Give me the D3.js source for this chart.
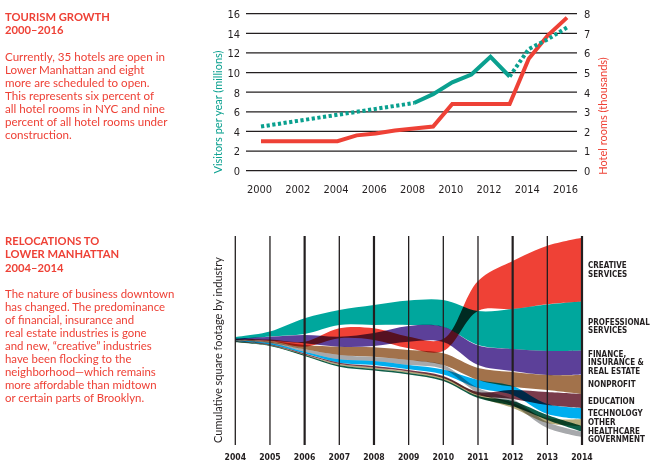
<!DOCTYPE html>
<html><head><meta charset="utf-8">
<script src="https://cdn.jsdelivr.net/npm/d3@7"></script>
<style>
body{margin:0;background:#fff;}
svg{display:block;}
text{font-family:Lato,"Liberation Sans",sans-serif;}
.nar{font-family:"Liberation Sans Narrow","DejaVu Sans Condensed",sans-serif;}
</style></head><body>
<svg id="c" width="656" height="470"></svg>
<script>
// ---------- DATA: top chart ----------
const visitTicks = [0, 2, 4, 6, 8, 10, 12, 14, 16];
const roomTicks = [0, 1, 2, 3, 4, 5, 6, 7, 8];
const yearTicksTop = [2000, 2002, 2004, 2006, 2008, 2010, 2012, 2014, 2016];
const visitEstYears = [2000, 2004, 2006, 2008];
const visitEst = [4.5, 5.7, 6.3, 6.9];
const visitActYears = [2008, 2009, 2010, 2011, 2012, 2013];
const visitAct = [6.9, 7.8, 9.0, 9.8, 11.6, 9.6];
const visitProjYears = [2013, 2014, 2015, 2016];
const visitProj = [9.6, 12.4, 13.4, 14.6];
const hotelYears = [2000, 2001, 2002, 2003, 2004, 2005, 2006, 2007, 2008, 2009, 2010, 2011, 2012, 2013, 2014, 2015, 2016];
const hotelRooms = [1.5, 1.5, 1.5, 1.5, 1.5, 1.8, 1.9, 2.05, 2.15, 2.25, 3.4, 3.4, 3.4, 3.4, 5.7, 6.9, 7.8];

// ---------- DATA: bottom chart (upper/lower edge of each industry band, relative units) ----------
const streamYears = [2004, 2005, 2006, 2007, 2008, 2009, 2010, 2011, 2012, 2013, 2014];
const industryLabels = [["CREATIVE", "SERVICES"], ["PROFESSIONAL", "SERVICES"], ["FINANCE,", "INSURANCE &", "REAL ESTATE"], ["NONPROFIT"], ["EDUCATION"], ["TECHNOLOGY"], ["OTHER"], ["HEALTHCARE"], ["GOVERNMENT"]];
const creative     = [[0,-0.5],[-0.5,-2],[-2.7,-7.7],[10.7,0.7],[10.7,-1],[2.3,-9.3],[0,-12],[58,28],[78,30],[93.3,34.7],[101.3,37.5]];
const professional = [[2,-1],[7.5,2.5],[20.7,5],[29,14],[34,14],[38.5,14],[39,12],[28,-6],[30,-10],[34.5,-12],[37.5,-11.5]];
const finance      = [[0.5,-1],[2.3,-1.7],[4,-4.3],[2.3,-7.7],[6,-7],[13,-2.7],[12.3,-3],[-6.5,-26],[-10,-32],[-12,-36],[-11.5,-35.5]];
const nonprofit    = [[-0.5,-1.5],[-1.7,-3.7],[-6,-10.3],[-7.7,-16],[-8.3,-17.7],[-11,-21],[-14.3,-26],[-29,-41],[-33,-47.7],[-36,-51],[-36,-55]];
const education    = [[-2,-2.6],[-5.3,-6],[-14.5,-15.5],[-23.7,-25],[-27,-28.5],[-31,-32.5],[-37,-39],[-53,-56],[-51,-60],[-53,-66],[-55,-69]];
const technology   = [[-1.5,-2.5],[-4,-5.5],[-12.7,-14.3],[-20.3,-23.7],[-22,-26],[-26,-30.3],[-30.5,-35.5],[-41,-49],[-47,-56],[-65,-75],[-69,-80]];
const other        = [[-2.3,-2.9],[-5.8,-6.6],[-15.5,-16.5],[-25,-26.3],[-28.5,-30],[-32.5,-34],[-38,-41],[-54,-58],[-64,-69],[-79,-84],[-80,-87]];
const healthcare   = [[-2.6,-3.2],[-6.3,-7],[-16,-17],[-26.3,-27.7],[-30,-31.5],[-34,-35.5],[-40.5,-42],[-57,-59],[-62,-67],[-76,-81],[-87,-92.7]];
const government   = [[-1,-2],[-3,-4.5],[-10.3,-12.7],[-16,-20.3],[-18,-22],[-21,-26],[-26,-30],[-49,-54],[-60,-66],[-83,-89],[-92.7,-98]];
const industryValues = [creative, professional, finance, nonprofit, education, technology, other, healthcare, government];

// ---------- texts ----------
const topHead = ["TOURISM GROWTH", "2000–2016"];
const topBody = ["Currently, 35 hotels are open in", "Lower Manhattan and eight", "more are scheduled to open.", "This represents six percent of", "all hotel rooms in NYC and nine", "percent of all hotel rooms under", "construction."];
const botHead = ["RELOCATIONS TO", "LOWER MANHATTAN", "2004–2014"];
const botBody = ["The nature of business downtown", "has changed. The predominance", "of financial, insurance and", "real estate industries is gone", "and new, “creative” industries", "have been flocking to the", "neighborhood—which remains", "more affordable than midtown", "or certain parts of Brooklyn."];

// ---------- styles ----------
const RED = "#ee4136", TEAL = "#0aa08f", INK = "#231f20";
const bandColors = ["#ef4136", "#00a79d", "#5c4099", "#a2724b", "#7a3b4b", "#00aeef", "#b5ab7b", "#0f5e49", "#a7a9ac"];

const svg = d3.select("#c");

function block(lines, x, y0, lh, size, weight, color) {
  const t = svg.append("text").attr("x", x).attr("y", y0).attr("fill", color)
    .attr("font-size", size).attr("font-weight", weight);
  lines.forEach((l, i) => t.append("tspan").attr("x", x).attr("y", y0 + i * lh).text(l));
}
block(topHead, 5, 20.7, 13.6, 11.2, 700, RED);
block(topBody, 5, 61, 12.95, 11.6, 400, RED);
block(botHead, 5, 245, 13.3, 11.2, 700, RED);
block(botBody, 5, 297.7, 13.07, 11.4, 400, RED);

// ---------- top chart ----------
const xT = d3.scaleLinear().domain([2000, 2016]).range([261, 567]);
const yL = d3.scaleLinear().domain([0, 16]).range([170.7, 13.7]);
const yR = d3.scaleLinear().domain([0, 8]).range([170.7, 13.7]);

svg.append("g").selectAll("line").data(visitTicks).join("line")
  .attr("x1", 246).attr("x2", 577).attr("y1", d => yL(d)).attr("y2", d => yL(d))
  .attr("stroke", INK).attr("stroke-width", 1.3);

svg.append("g").selectAll("text").data(visitTicks).join("text").attr("class", "nar")
  .attr("x", 240).attr("y", d => yL(d) + 4.3).attr("text-anchor", "end")
  .attr("font-size", 11).attr("fill", INK).text(d => d);
svg.append("g").selectAll("text").data(roomTicks).join("text").attr("class", "nar")
  .attr("x", 584).attr("y", d => yR(d) + 4.3)
  .attr("font-size", 11).attr("fill", INK).text(d => d);
svg.append("g").selectAll("text").data(yearTicksTop).join("text").attr("class", "nar")
  .attr("x", d => xT(d) - 1.5).attr("y", 192.7).attr("text-anchor", "middle")
  .attr("font-size", 11).attr("fill", INK).text(d => d);

svg.append("text").attr("transform", "translate(221.5,112) rotate(-90)").attr("text-anchor", "middle")
  .attr("font-size", 11).attr("fill", TEAL).text("Visitors per year (millions)");
svg.append("text").attr("transform", "translate(607,116) rotate(-90)").attr("text-anchor", "middle")
  .attr("font-size", 11).attr("fill", RED).text("Hotel rooms (thousands)");

const lineL = d3.line().x(d => xT(d[0])).y(d => yL(d[1]));
const lineR = d3.line().x(d => xT(d[0])).y(d => yR(d[1]));
svg.append("path").attr("d", lineR(d3.zip(hotelYears, hotelRooms)))
  .attr("fill", "none").attr("stroke", RED).attr("stroke-width", 4);
svg.append("path").attr("d", lineL(d3.zip(visitEstYears, visitEst)))
  .attr("fill", "none").attr("stroke", TEAL).attr("stroke-width", 4).attr("stroke-dasharray", "3.2,2.5");
svg.append("path").attr("d", lineL(d3.zip(visitActYears, visitAct)))
  .attr("fill", "none").attr("stroke", TEAL).attr("stroke-width", 4);
svg.append("path").attr("d", lineL(d3.zip(visitProjYears, visitProj)))
  .attr("fill", "none").attr("stroke", TEAL).attr("stroke-width", 4).attr("stroke-dasharray", "3.2,2.5");

// ---------- bottom chart ----------
const xB = d3.scaleLinear().domain([2004, 2014]).range([235.3, 582]);
const yB = d3.scaleLinear().domain([-110, 110]).range([449, 229]);
const area = d3.area().x((d, i) => xB(streamYears[i])).y0(d => yB(d[1])).y1(d => yB(d[0])).curve(d3.curveCatmullRom.alpha(0.5));

svg.append("g").selectAll("path").data(industryValues).join("path")
  .attr("d", d => area(d)).attr("fill", (d, i) => bandColors[i])
  .style("mix-blend-mode", "multiply");

const thick = new Set([2006, 2008, 2012, 2014]);
svg.append("g").selectAll("line").data(streamYears).join("line")
  .attr("x1", d => xB(d)).attr("x2", d => xB(d)).attr("y1", 236).attr("y2", 445)
  .attr("stroke", INK).attr("stroke-width", d => thick.has(d) ? 2.2 : 1.3);

svg.append("g").selectAll("text").data(streamYears).join("text").attr("class", "nar")
  .attr("x", d => xB(d)).attr("y", 460).attr("text-anchor", "middle")
  .attr("font-size", 8.6).attr("font-weight", 700).attr("fill", INK).text(d => d);

svg.append("text").attr("transform", "translate(222,350) rotate(-90)").attr("text-anchor", "middle")
  .attr("font-size", 11).attr("fill", INK).text("Cumulative square footage by industry");

// labels at the 2014 end of each band, spread so they do not overlap
const LH = 8.3;
let prevBottom = -Infinity;
industryValues.forEach((v, i) => {
  const last = v[v.length - 1];
  const n = industryLabels[i].length;
  let mid = (yB(last[0]) + yB(last[1])) / 2;
  const half = (n * LH) / 2;
  if (mid - half < prevBottom) mid = prevBottom + half;
  prevBottom = mid + half;
  const first = mid - (n - 1) * LH / 2 + 2.9;
  const t = svg.append("text").attr("class", "nar").attr("font-size", 8).attr("font-weight", 700).attr("fill", INK);
  industryLabels[i].forEach((l, k) => t.append("tspan").attr("x", xB(2014) + 6).attr("y", first + k * LH).text(l));
});
</script>
</body></html>
